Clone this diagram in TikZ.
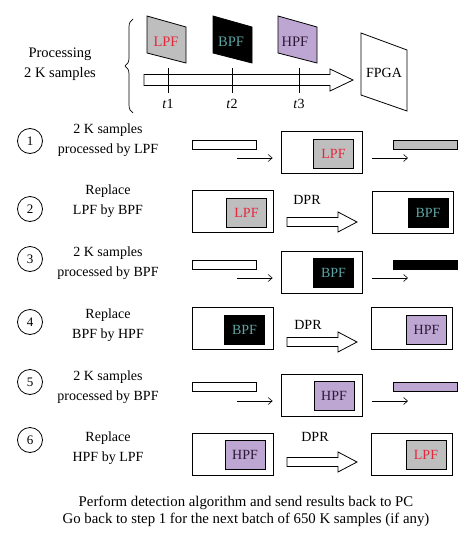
\documentclass[tikz,border=0pt]{standalone}
\usepackage{fontspec}
\setmainfont{Liberation Serif}
\usetikzlibrary{arrows.meta,decorations.pathreplacing}
\definecolor{fgray}{RGB}{190,190,190}
\definecolor{fpurple}{RGB}{190,166,210}
\definecolor{fred}{RGB}{228,40,60}
\definecolor{fteal}{RGB}{95,165,165}
\definecolor{fdark}{RGB}{45,25,55}
\begin{document}
\begin{tikzpicture}[x=1pt,y=-1pt,
  every node/.style={font=\fontsize{14}{20}\selectfont},
  frame/.style={draw,line width=0.8pt,minimum width=81pt,minimum height=42pt,inner sep=0pt},
  filt/.style={draw,line width=0.8pt,minimum width=40pt,minimum height=29pt,inner sep=0pt,font=\fontsize{14}{15}\selectfont},
  lpf/.style={filt,fill=fgray,text=fred},
  bpf/.style={filt,fill=black,text=fteal},
  hpf/.style={filt,fill=fpurple,text=fdark},
  bar/.style={draw,line width=0.8pt,minimum width=64pt,minimum height=9pt,inner sep=0pt},
  num/.style={draw,circle,line width=0.8pt,minimum size=25pt,inner sep=0pt,font=\fontsize{13}{14}\selectfont},
  lbl/.style={align=center},
  thinarr/.style={line width=0.6pt,-{Straight Barb[length=4pt,width=7pt]}},
  hollow/.style={draw,line width=0.8pt,fill=white},
  quad/.style={draw,line width=0.8pt}
]
\useasboundingbox (0,0) rectangle (474,543);

% ---------- top section ----------
\node[lbl,font=\fontsize{14.5}{20}\selectfont] (proc) at (60,64) {Processing\\2 K samples};
\draw[line width=0.7pt,decorate,decoration={brace,amplitude=8pt}] (133,113) -- (133,19);

\draw[quad,fill=fgray] (147,16) -- (186,27) -- (186,63) -- (147,53) -- cycle;
\node[text=fred,font=\fontsize{14.5}{15}\selectfont] (tl) at (166,42) {LPF};
\draw[quad,fill=black] (213,16) -- (252,27) -- (252,63) -- (213,53) -- cycle;
\node[text=fteal,font=\fontsize{14.5}{15}\selectfont] (tb) at (231,42) {BPF};
\draw[quad,fill=fpurple] (278,16) -- (317,27) -- (317,63) -- (278,53) -- cycle;
\node[text=fdark,font=\fontsize{14.5}{15}\selectfont] (th) at (295,42) {HPF};

\draw[hollow] (144,74.5) -- (330,74.5) -- (330,69) -- (353,80) -- (330,91) -- (330,85.5) -- (144,85.5) -- cycle;
\foreach \x/\t in {168/1,232/2,299/3}{
  \draw[line width=0.8pt] (\x,68) -- (\x,93);
  \node (t\t) at (\x,104) {\textit{t}\t};
}
\draw[quad] (361,33) -- (407,50) -- (407,111) -- (361,95) -- cycle;
\node (fpga) at (384,73) {FPGA};

% ---------- row 1 ----------
\node[num] (n1) at (30,141) {1};
\node[lbl] (l1) at (108,140) {2 K samples\\processed by LPF};
\node[bar] (in1) at (224,144.5) {};
\node[frame] (b1) at (321.5,152.5) {};
\node[lpf] (f1) at (333.5,153.5) {LPF};
\node[bar,fill=fgray] (o1) at (425,145) {};
\coordinate (s1) at (237,158);
\draw[thinarr] (s1) -- ([xshift=-8pt]b1.west |- s1);
\coordinate (r1) at (372,158);
\draw[thinarr] (r1) -- ++(36,0);

% ---------- row 2 ----------
\node[num] (n2) at (30,209) {2};
\node[lbl] (l2) at (108,201) {Replace\\LPF by BPF};
\node[frame] (lb2) at (233,211.5) {};
\node[lpf] (lf2) at (246.5,213) {LPF};
\node[frame] (rb2) at (412.5,212) {};
\node[bpf] (rf2) at (428,212.5) {BPF};
\node (d2) at (307,200) {DPR};
\draw[hollow] (287,217.5) -- (338,217.5) -- (338,212) -- (357,222) -- (338,232) -- (338,226.5) -- (287,226.5) -- cycle;

% ---------- row 3 ----------
\node[num] (n3) at (30,259) {3};
\node[lbl] (l3) at (108,263) {2 K samples\\processed by BPF};
\node[bar] (in3) at (224,265) {};
\node[frame] (b3) at (321.5,272.5) {};
\node[bpf] (f3) at (333.5,272.5) {BPF};
\node[bar,fill=black] (o3) at (425.5,265) {};
\coordinate (s3) at (237,278);
\draw[thinarr] (s3) -- ([xshift=-8pt]b3.west |- s3);
\coordinate (r3) at (372,278);
\draw[thinarr] (r3) -- ++(36,0);

% ---------- row 4 ----------
\node[num] (n4) at (30,322) {4};
\node[lbl] (l4) at (108,325) {Replace\\BPF by HPF};
\node[frame] (lb4) at (232.5,328.5) {};
\node[bpf] (lf4) at (244.5,330) {BPF};
\node[frame] (rb4) at (411.5,328.5) {};
\node[hpf] (rf4) at (426.5,329.5) {HPF};
\node (d4) at (308,325) {DPR};
\draw[hollow] (287,337.5) -- (338,337.5) -- (338,332) -- (357,342) -- (338,352) -- (338,346.5) -- (287,346.5) -- cycle;

% ---------- row 5 ----------
\node[num] (n5) at (30,382) {5};
\node[lbl] (l5) at (108,387) {2 K samples\\processed by BPF};
\node[bar] (in5) at (224,387) {};
\node[frame] (b5) at (321.5,395) {};
\node[hpf] (f5) at (334,395.5) {HPF};
\node[bar,fill=fpurple] (o5) at (425.5,387) {};
\coordinate (s5) at (237,401);
\draw[thinarr] (s5) -- ([xshift=-8pt]b5.west |- s5);
\coordinate (r5) at (372,401);
\draw[thinarr] (r5) -- ++(36,0);

% ---------- row 6 ----------
\node[num] (n6) at (30,440) {6};
\node[lbl] (l6) at (108,448) {Replace\\HPF by LPF};
\node[frame] (lb6) at (232.5,454) {};
\node[hpf] (lf6) at (245,454.5) {HPF};
\node[frame] (rb6) at (412,454) {};
\node[lpf] (rf6) at (426,454.5) {LPF};
\node (d6) at (315,437) {DPR};
\draw[hollow] (287,457.5) -- (338,457.5) -- (338,452) -- (357,462) -- (338,472) -- (338,466.5) -- (287,466.5) -- cycle;

% ---------- bottom ----------
\node[lbl,font=\fontsize{14.8}{17}\selectfont] (foot) at (246,511.5) {Perform detection algorithm and send results back to PC\\Go back to step 1 for the next batch of 650 K samples (if any)};
\end{tikzpicture}
\end{document}
